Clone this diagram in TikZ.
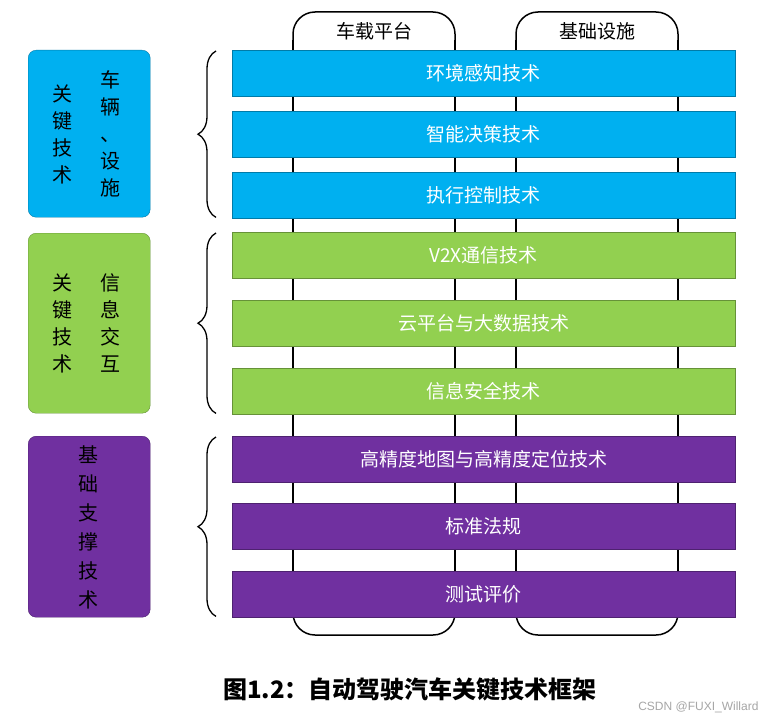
\documentclass[tikz,border=0pt]{standalone}
\usepackage{fontspec}
\setmainfont{Liberation Sans}
\newfontfamily\cjk{Noto Sans CJK SC}
\usetikzlibrary{decorations.pathreplacing,calc}
\definecolor{cblue}{HTML}{00B0F0}
\definecolor{cgreen}{HTML}{92D050}
\definecolor{cpurple}{HTML}{7030A0}
\tikzset{
 bar/.style={draw=#1!70!black,fill=#1,minimum width=503pt,minimum height=46pt,text=white,font=\cjk\fontsize{19}{19}\selectfont,inner sep=0,anchor=north west},
 side/.style={draw=#1!70!black,fill=#1,rounded corners=8pt,anchor=north west,minimum width=122pt,inner sep=0},
 col/.style={draw=black,line width=1.5pt,rounded corners=22pt},
 vt/.style={font=\cjk\fontsize{20}{27}\selectfont,align=center,text width=22pt},
 br/.style={decorate,decoration={brace,amplitude=18pt},line width=1.3pt}
}
\begin{document}
\begin{tikzpicture}[x=1pt,y=-1pt]
\useasboundingbox[fill=white] (0,0) rectangle (776,725);
\draw[col] (293,60) -- (293,12) -- (455,12) -- (455,60);
\draw[col] (516,60) -- (516,12) -- (678,12) -- (678,60);
\draw[col] (293,600) -- (293,635) -- (455,635) -- (455,600);
\draw[col] (516,600) -- (516,635) -- (678,635) -- (678,600);
\draw[line width=1.5pt] (293,40)--(293,610) (455,40)--(455,610) (516,40)--(516,610) (678,40)--(678,610);
\node[font=\cjk\fontsize{19}{19}\selectfont] (h1) at (374,31) {车载平台};
\node[font=\cjk\fontsize{19}{19}\selectfont] (h2) at (597,31) {基础设施};
\node[bar=cblue,minimum height=46pt] (b1) at (232,50) {环境感知技术};
\node[bar=cblue] (b2) at (232,111) {智能决策技术};
\node[bar=cblue] (b3) at (232,172) {执行控制技术};
\node[bar=cgreen] (b4) at (232,232) {V2X通信技术};
\node[bar=cgreen] (b5) at (232,300) {云平台与大数据技术};
\node[bar=cgreen] (b6) at (232,368) {信息安全技术};
\node[bar=cpurple] (b7) at (232,436) {高精度地图与高精度定位技术};
\node[bar=cpurple] (b8) at (232,503) {标准法规};
\node[bar=cpurple] (b9) at (232,571) {测试评价};
\node[side=cblue,minimum height=167pt] (s1) at (28,50) {};
\node[side=cgreen,minimum height=180pt] (s2) at (28,233) {};
\node[side=cpurple,minimum height=181pt] (s3) at (28,436) {};
\node[vt] (t1a) at (62,134) {关\\键\\技\\术};
\node[vt] (t1b) at (110,134) {车\\辆\\、\\设\\施};
\node[vt] (t2a) at (62,323) {关\\键\\技\\术};
\node[vt] (t2b) at (110,323) {信\\息\\交\\互};
\node[vt,font=\cjk\fontsize{20}{29}\selectfont] (t3) at (88,527) {基\\础\\支\\撑\\技\\术};
\draw[br] ($(b3.south west)+(-16,-1)$) -- ($(b1.north west)+(-16,1)$);
\draw[br] ($(b6.south west)+(-16,-1)$) -- ($(b4.north west)+(-16,1)$);
\draw[br] ($(b9.south west)+(-16,-1)$) -- ($(b7.north west)+(-16,1)$);
\node[font=\cjk\bfseries\fontsize{24}{24}\selectfont] (cap) at (410,689) {图1.2：自动驾驶汽车关键技术框架};
\node[font=\fontsize{12}{12}\selectfont,text=gray!70,anchor=east] (wm) at (762,707) {CSDN @FUXI\_Willard};
\end{tikzpicture}
\end{document}
